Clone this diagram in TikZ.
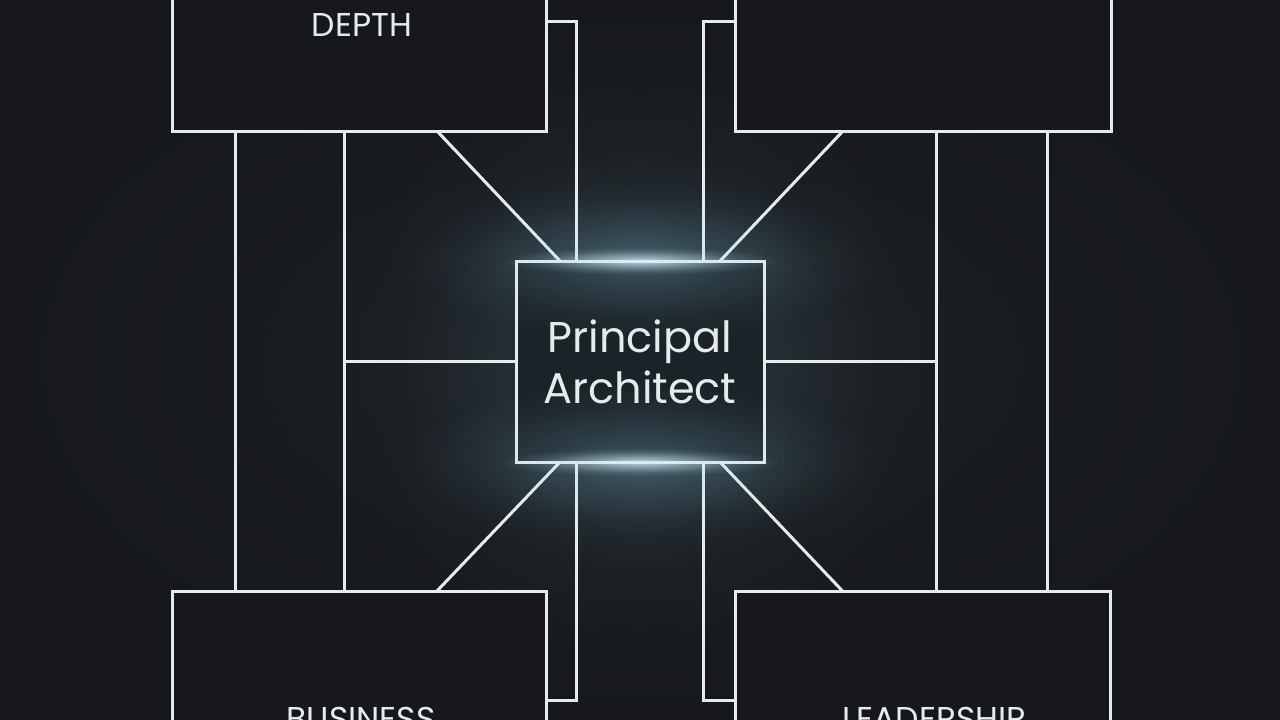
\documentclass[tikz,border=0pt]{standalone}
\usepackage{fontspec}
\setmainfont{Poppins}
\usetikzlibrary{fadings}

\definecolor{bgdark}{HTML}{16181B}
\definecolor{bgmid}{HTML}{1E2226}
\definecolor{linec}{HTML}{E6ECEE}
\definecolor{glowc}{HTML}{8FD4EC}
\definecolor{hazec}{HTML}{3E5A68}
\definecolor{boxfill}{HTML}{17181B}
\definecolor{corefill}{HTML}{1C2328}
\definecolor{flarec}{HTML}{D8F2FA}

\pgfdeclareradialshading{softglowshade}{\pgfpointorigin}{color(0bp)=(transparent!0); color(9bp)=(transparent!45); color(18bp)=(transparent!85); color(25bp)=(transparent!100); color(50bp)=(transparent!100)}
\pgfdeclarefading{softglow}{\pgfuseshading{softglowshade}}

\tikzset{
  box/.style={draw=linec, line width=3pt, fill=boxfill, inner sep=0pt, outer sep=0pt},
  core/.style={box, fill=corefill, text=linec, align=center,
    font=\fontsize{43}{51}\selectfont},
  wire/.style={draw=linec, line width=3pt},
  title/.style={text=linec, inner sep=0pt, font=\fontsize{33}{40}\selectfont},
  glow/.style={path fading=softglow},
}

\begin{document}
\begin{tikzpicture}[x=1pt,y=-1pt]
		\clip (0,0) rectangle (1280,720);
		\shade[inner color=bgmid, outer color=bgdark] (0,0) rectangle (1280,720);
		\fill[hazec, opacity=0.5, glow] (640,361) ellipse (300 and 300);
		
		\node[box, minimum width=374, minimum height=240, anchor=south] (depth) at (359,131) {};
		\node[box, minimum width=376, minimum height=240, anchor=south] (rightbox) at (923,131) {};
		\node[box, minimum width=374, minimum height=240, anchor=north] (business) at (359,591) {};
		\node[box, minimum width=375, minimum height=240, anchor=north] (leadership) at (922.5,591) {};
		
		\node[core, minimum width=248, minimum height=201] (core) at (640,361.5) {Principal\\Architect};
		
		\node[title, anchor=base] (depthtxt) at (362,36) {DEPTH};
		\node[title, anchor=base] (businesstxt) at (361,730) {BUSINESS};
		\node[title, anchor=base] (leadershiptxt) at (934,730) {LEADERSHIP};
		
		\coordinate (xa) at (235,0);
		\coordinate (xb) at (344,0);
		\coordinate (xc) at (936,0);
		\coordinate (xd) at (1047,0);
		\coordinate (ytop) at (0,21);
		\coordinate (ybot) at (0,700);
		
		\draw[wire] (xa |- depth.south) -- (xa |- business.north);
		\draw[wire] (xb |- depth.south) -- (xb |- business.north);
		\draw[wire] (xc |- rightbox.south) -- (xc |- leadership.north);
		\draw[wire] (xd |- rightbox.south) -- (xd |- leadership.north);
		
		\draw[wire] (xb |- core.west) -- (core.west);
		\draw[wire] (core.east) -- (xc |- core.east);
		
		\draw[wire] ([xshift=78]depth.south) -- ([xshift=-80]core.north);
		\draw[wire] ([xshift=-80]rightbox.south) -- ([xshift=80]core.north);
		\draw[wire] ([xshift=78]business.north) -- ([xshift=-80]core.south);
		\draw[wire] ([xshift=-80]leadership.north) -- ([xshift=80]core.south);
		
		\draw[wire] (depth.east |- ytop) -| ([xshift=-64]core.north);
		\draw[wire] (rightbox.west |- ytop) -| ([xshift=63]core.north);
		\draw[wire] (business.east |- ybot) -| ([xshift=-64]core.south);
		\draw[wire] (leadership.west |- ybot) -| ([xshift=63]core.south);
		
		% glow on the core edges
		\fill[glowc, opacity=0.28, glow] (core.north) ellipse (240 and 80);
		\fill[glowc, opacity=0.28, glow] (core.south) ellipse (240 and 80);
		\fill[flarec, opacity=0.8, glow] (core.north) ellipse (140 and 14);
		\fill[flarec, opacity=0.8, glow] (core.south) ellipse (140 and 14);
\end{tikzpicture}
\end{document}
